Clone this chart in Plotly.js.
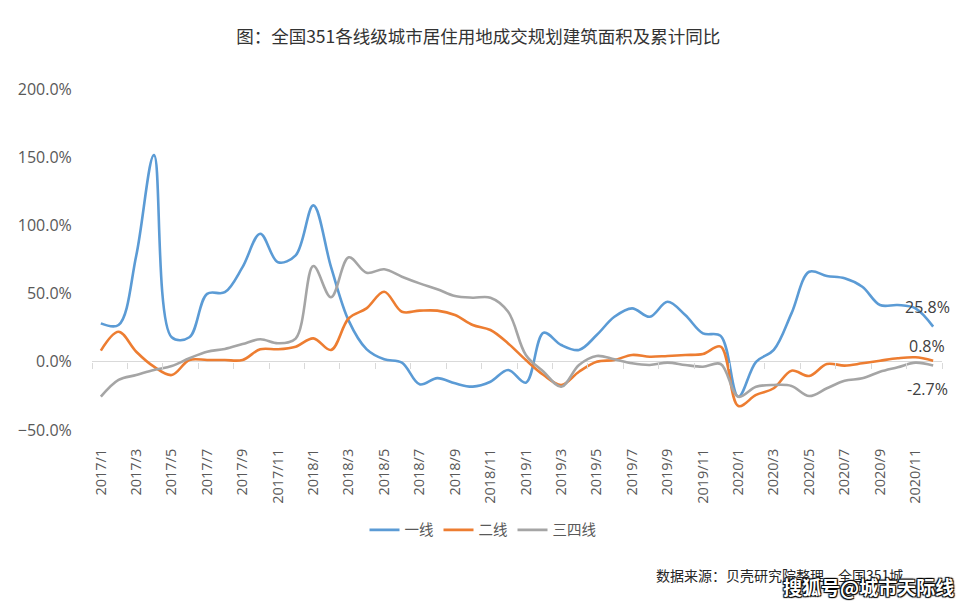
<!DOCTYPE html>
<html>
<head>
<meta charset="utf-8">
<script src="https://cdn.plot.ly/plotly-3.0.1.min.js"></script>
<style>
  html, body { margin: 0; padding: 0; background: #fff; }
  #chart { width: 976px; height: 608px; }
</style>
</head>
<body>
<div id="chart"></div>
<script>
// Months 2017/1 .. 2020/12
const months = [];
for (let y = 2017; y <= 2020; y++) {
  for (let m = 1; m <= 12; m++) months.push(y + '/' + m);
}

// Cumulative year-on-year change (%) of planned floor area, by city tier
const tier1 = [28.2, 27, 78, 151.5, 18, 18, 49.8, 51, 69.4, 93.9, 73, 78,
               114.7, 69.4, 30, 9.3, 1.8, -0.6, -16.5, -12, -15.8, -18.2, -14.6, -6,
               -15.3, 21.3, 12.3, 8.7, 19.6, 33, 39.2, 33, 44, 34.3, 20.9, 19,
               -25.6, 0, 8.7, 35.5, 66, 62.9, 61.2, 55, 41.6, 41.6, 39.2, 25.8];
const tier2 = [8.2, 22, 7.4, -3.6, -9.7, 1.3, 1.3, 1.3, 1.3, 9.2, 9.2, 11.1,
               17.2, 8.7, 31.9, 39.2, 51.4, 36.7, 37.5, 37.5, 34.3, 27, 23.3, 13.5,
               1.3, -9.7, -17, -7.3, 0, 1.3, 5, 3.7, 4.3, 5, 5.7, 11.1,
               -32.4, -24.3, -19.4, -6.5, -10.4, -1.6, -2.8, -1.1, 0.8, 2.6, 3.3, 0.8];
const tier34 = [-25.6, -13.3, -9.7, -6, -3.1, 2.6, 7.4, 9.4, 13, 16.5, 13.6, 17,
                70.2, 47.3, 76.6, 65.3, 67.8, 62.4, 57.5, 53.2, 48.2, 47, 47, 36.7,
                5, -7.3, -18.3, -2.3, 4.3, 1.8, -1.1, -2.3, -0.6, -2.3, -3.6, -1.6,
                -25.6, -18.3, -17, -17.7, -25.1, -19.4, -13.9, -12.1, -7.3, -4, -0.6, -2.7];

const seriesNames = ['一线', '二线', '三四线'];
const seriesColors = ['#5B9BD5', '#ED7D31', '#A5A5A5'];

const idx = months.map((_, i) => i);
const labelIdx = idx.filter(i => i % 2 === 0);
const labelText = labelIdx.map(i => months[i]);
const boundaryTicks = [];
for (let b = -0.5; b <= months.length - 0.5; b += 2) boundaryTicks.push(b);

const CJK = '"Noto Sans CJK SC", "Noto Sans", sans-serif';
const LATIN = '"Open Sans", "Noto Sans CJK SC", sans-serif';

const allSeries = [tier1, tier2, tier34];
const traces = allSeries.map((vals, k) => ({
  type: 'scatter',
  mode: 'lines',
  name: seriesNames[k],
  x: idx,
  y: vals,
  xaxis: k === 2 ? 'x2' : 'x',
  yaxis: 'y',
  line: { color: seriesColors[k], width: 2.6, shape: 'spline', smoothing: 1 },
  hoverinfo: 'x+y+name'
}));

// Value labels at the last month of each series
const lastI = months.length - 1;
const endShift = [20, 15, -24];
const endLabels = allSeries.map((vals, k) => ({
  x: lastI, y: vals[lastI], xref: 'x', yref: 'y',
  text: vals[lastI].toFixed(1) + '%',
  showarrow: false, xanchor: 'center', yanchor: 'middle',
  xshift: -6, yshift: endShift[k],
  font: { family: LATIN, size: 16, color: '#404040' }
}));

const layout = {
  width: 976, height: 608,
  margin: { l: 92, r: 34, t: 89, b: 178 },
  paper_bgcolor: '#ffffff', plot_bgcolor: '#ffffff',
  showlegend: true,
  title: {
    text: '图：全国351各线级城市居住用地成交规划建筑面积及累计同比',
    x: 0.49, xanchor: 'center', y: 0.939, yanchor: 'middle',
    font: { family: CJK, size: 17.5, color: '#333333' }
  },
  xaxis: {
    range: [-0.5, months.length - 0.5],
    tickmode: 'array', tickvals: labelIdx, ticktext: labelText,
    tickangle: -90,
    ticks: 'outside', ticklen: 12, tickcolor: 'rgba(0,0,0,0)',
    showline: false, showgrid: false, zeroline: false,
    tickfont: { family: LATIN, size: 14.5, color: '#595959' }
  },
  xaxis2: {
    overlaying: 'x', matches: 'x', anchor: 'free', position: 0.2, side: 'bottom',
    range: [-0.5, months.length - 0.5],
    tickmode: 'array', tickvals: boundaryTicks,
    ticks: 'outside', ticklen: 6, tickcolor: '#d9d9d9', tickwidth: 1,
    showticklabels: false, showline: false, showgrid: false, zeroline: false
  },
  yaxis: {
    range: [-50, 200], tickmode: 'linear', tick0: -50, dtick: 50,
    tickformat: '.1f', ticksuffix: '%',
    ticks: 'outside', ticklen: 16, tickcolor: 'rgba(0,0,0,0)',
    showgrid: false, showline: false,
    zeroline: true, zerolinecolor: '#d9d9d9', zerolinewidth: 1,
    tickfont: { family: LATIN, size: 16, color: '#595959' }
  },
  legend: {
    orientation: 'h', x: 0.46, xanchor: 'center', y: -0.293, yanchor: 'middle',
    font: { family: CJK, size: 14.5, color: '#595959' },
    itemwidth: 30, tracegroupgap: 0
  },
  annotations: endLabels.concat([
    {
      text: '数据来源：贝壳研究院整理，全国351城',
      xref: 'paper', yref: 'paper', x: 0.956, y: -0.425,
      xanchor: 'right', yanchor: 'middle', showarrow: false,
      font: { family: CJK, size: 14, color: '#262626' }
    },
    {
      text: '<b>搜狐号@城市天际线</b>',
      xref: 'paper', yref: 'paper', x: 1.016, y: -0.458,
      xanchor: 'right', yanchor: 'middle', showarrow: false,
      font: { family: CJK, size: 19, color: '#ffffff',
              shadow: '1px 1px 1px #000, -1px -1px 1px #000, 1px -1px 1px #000, -1px 1px 1px #000' }
    }
  ])
};

Plotly.newPlot('chart', traces, layout, { displayModeBar: false, staticPlot: true });
</script>
</body>
</html>
